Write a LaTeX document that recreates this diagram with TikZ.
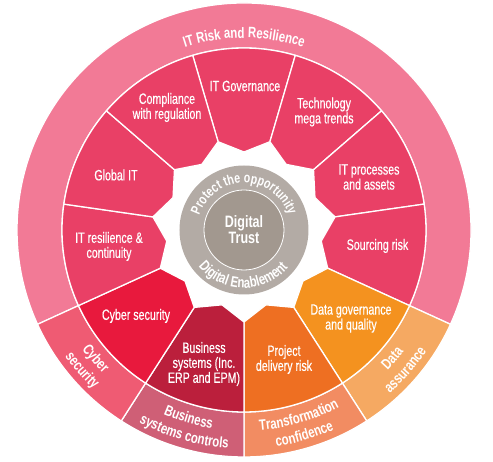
\documentclass[tikz,border=0pt]{standalone}
\usepackage{fontspec}
\setmainfont{Liberation Sans}[FakeStretch=0.71, FakeBold=0.4]
\newfontfamily\boldfam{Liberation Sans}[FakeStretch=0.76]
\usetikzlibrary{decorations.text}
\definecolor{segpink}{RGB}{233,64,102}
\definecolor{bandpink}{RGB}{242,122,150}
\definecolor{cyberseg}{RGB}{232,25,61}
\definecolor{busseg}{RGB}{187,31,60}
\definecolor{projseg}{RGB}{238,111,34}
\definecolor{dataseg}{RGB}{244,146,31}
\definecolor{cyberband}{RGB}{239,91,115}
\definecolor{busband}{RGB}{207,95,118}
\definecolor{transband}{RGB}{242,140,98}
\definecolor{databand}{RGB}{245,169,98}
\definecolor{grayring}{RGB}{179,171,165}
\definecolor{graycore}{RGB}{162,152,143}
\newcommand\segfont{\fontsize{15}{15}\selectfont}
\newcommand\bandfont{\boldfam\bfseries\fontsize{15}{16}\selectfont}
\newcommand\ringtextfont{\boldfam\bfseries\fontsize{14}{14}\selectfont}
\newcommand\ringtextfontb{\boldfam\bfseries\fontsize{15}{14}\selectfont}
\newcommand\corefont{\boldfam\bfseries\fontsize{16.5}{15.5}\selectfont}
\begin{document}
\begin{tikzpicture}[x=1pt,y=1pt,
  seg/.style={fill=#1, draw=white, line width=1.3pt, line join=round},
  segtext/.style={text=white, align=center, font=\segfont, inner sep=0pt},
  arctext/.style={decorate, decoration={text along path, text={#1}, text align=center, text color=white}}]
\useasboundingbox (-244,-232) rectangle (249,230);
% outer band
\filldraw[seg=bandpink] (-24.55:227) arc[start angle=-24.55, end angle=204.55, radius=227] -- (204.55:182) arc[start angle=204.55, end angle=-24.55, radius=182] -- cycle;
\foreach \a/\b/\c in {-57.27/-24.55/databand, -90/-57.27/transband, -122.73/-90/busband, -155.45/-122.73/cyberband}
  \filldraw[seg=\c] (\a:227) arc[start angle=\a, end angle=\b, radius=227] -- (\b:182) arc[start angle=\b, end angle=\a, radius=182] -- cycle;
% inner segments
\foreach \i/\c in {0/segpink,1/segpink,2/segpink,3/segpink,4/dataseg,5/projseg,6/busseg,7/cyberseg,8/segpink,9/segpink,10/segpink}{
  \pgfmathsetmacro\m{90-\i*360/11}
  \pgfmathsetmacro\s{\m+180/11}
  \pgfmathsetmacro\e{\m-180/11}
  \filldraw[seg=\c] (\s:182) arc[start angle=\s, end angle=\e, radius=182] -- (\e:92) -- (\m:78) -- (\s:92) -- cycle;
}
% centre
\fill[grayring] (0,0) circle[radius=64.5];
\filldraw[fill=graycore, draw=white, line width=0.8pt] (0,0) circle[radius=40];
\node[text=white, align=center, font=\corefont, inner sep=0pt] (core) at (0,0.5) {Digital\\Trust};
% segment texts
\node[segtext] (gov) at (1,144) {IT Governance};
\node[segtext] (comp) at (-77,122.5) {Compliance\\with regulation};
\node[segtext] (tech) at (80,118) {Technology\\mega trends};
\node[segtext] (glob) at (-128,55) {Global IT};
\node[segtext] (proc) at (125,53) {IT processes\\and assets};
\node[segtext] (resil) at (-135,-16.5) {IT resilience \&\\continuity};
\node[segtext] (sourc) at (133.5,-16) {Sourcing risk};
\node[segtext] (cyb) at (-108,-86) {Cyber security};
\node[segtext] (datag) at (107,-88.5) {Data governance\\and quality};
\node[segtext] (bus) at (-40,-134) {Business\\systems (Inc.\\ERP and EPM)};
\node[segtext] (proj) at (40,-129.5) {Project\\delivery risk};
% band texts
\path[arctext={|\bandfont|IT Risk and Resilience}] (130:192) arc[start angle=130, end angle=50, radius=192];
\path[arctext={|\bandfont|Cyber}] (-179.1:201) arc[start angle=-179.1, end angle=-99.1, radius=201];
\path[arctext={|\bandfont|security}] (-179.1:219) arc[start angle=-179.1, end angle=-99.1, radius=219];
\path[arctext={|\bandfont|Business}] (-146.4:201) arc[start angle=-146.4, end angle=-66.4, radius=201];
\path[arctext={|\bandfont|systems controls}] (-146.4:219) arc[start angle=-146.4, end angle=-66.4, radius=219];
\path[arctext={|\bandfont|Transformation}] (-113.6:201) arc[start angle=-113.6, end angle=-33.6, radius=201];
\path[arctext={|\bandfont|confidence}] (-113.6:219) arc[start angle=-113.6, end angle=-33.6, radius=219];
\path[arctext={|\bandfont|Data}] (-80.9:201) arc[start angle=-80.9, end angle=-0.9, radius=201];
\path[arctext={|\bandfont|assurance}] (-80.9:219) arc[start angle=-80.9, end angle=-0.9, radius=219];
% ring texts
\path[arctext={|\ringtextfont|Protect the opportunity}] (179:47) arc[start angle=179, end angle=1, radius=47];
\path[arctext={|\ringtextfontb|Digital Enablement}] (-179:58) arc[start angle=-179, end angle=-3, radius=58];
\end{tikzpicture}
\end{document}
